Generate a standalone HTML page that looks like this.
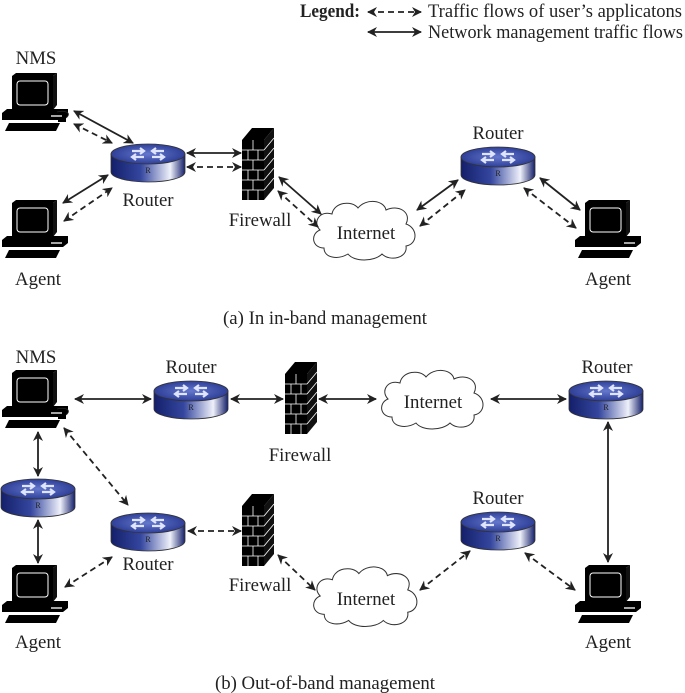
<!DOCTYPE html>
<html><head><meta charset="utf-8"><style>
html,body{margin:0;padding:0;background:#fff}
svg{display:block}
text{font-family:"Liberation Serif",serif;font-size:18.8px;fill:#222}
</style></head><body>
<svg width="685" height="693" viewBox="0 0 685 693" xmlns="http://www.w3.org/2000/svg">
<defs>
<linearGradient id="rg" x1="0" x2="1" y1="0" y2="0">
<stop offset="0" stop-color="#141f6a"/><stop offset="0.4" stop-color="#34469e"/><stop offset="0.8" stop-color="#eef0fa"/><stop offset="1" stop-color="#141f6a"/></linearGradient>
<radialGradient id="tg" cx="0.5" cy="0.5" r="0.6"><stop offset="0" stop-color="#6478cc"/><stop offset="1" stop-color="#25348e"/></radialGradient>
<marker id="ah" viewBox="0 0 10 10" refX="9" refY="5" markerWidth="10" markerHeight="10" orient="auto-start-reverse" markerUnits="userSpaceOnUse"><path d="M0,0 L10,5 L0,10 L3,5 Z" fill="#222"/></marker>
<symbol id="router" viewBox="0 0 76 40">
<path d="M1,11 L1,29 A37,10 0 0 0 75,29 L75,11 Z" fill="url(#rg)" stroke="#333" stroke-width="0.8"/>
<ellipse cx="38" cy="11" rx="37" ry="10" fill="url(#tg)" stroke="#333" stroke-width="0.8"/>
<g stroke="#dfe4ff" stroke-width="2.2" fill="none">
<path d="M22,8 L34,8 M30,5 L34,8 L30,11"/><path d="M54,8 L42,8 M46,5 L42,8 L46,11"/>
<path d="M34,14 L22,14 M26,11 L22,14 L26,17"/><path d="M42,14 L54,14 M50,11 L54,14 L50,17"/></g>
<text x="38" y="30" text-anchor="middle" style="font-size:8px;fill:#222">R</text>
</symbol>
<symbol id="pc" viewBox="0 0 70 60">
<polygon points="12,3 16,0 57,0 53,3" fill="#000"/>
<polygon points="53,3 57,0 57,32 53,37" fill="#111"/>
<rect x="12" y="3" width="41" height="34" fill="#000"/>
<rect x="17" y="8" width="31" height="24" rx="3" fill="#000" stroke="#fff" stroke-width="1"/>
<polygon points="2,40 7,36 68,36 68,43 63,47 2,47" fill="#000"/>
<line x1="51" y1="43" x2="62" y2="43" stroke="#fff" stroke-width="1.3"/>
<polygon points="5,58 9,50 60,50 56,58" fill="#000"/>
</symbol>
<symbol id="fw" viewBox="0 0 32 72">
<polygon points="0,12 10,0 32,0 22,12" fill="#000"/>
<polygon points="22,12 32,0 32,60 22,72" fill="#111"/>
<rect x="0" y="12" width="22" height="60" fill="#000"/>
<g stroke="#fff" stroke-width="0.8" fill="none">
<path d="M0,22 H22 M0,32 H22 M0,42 H22 M0,52 H22 M0,62 H22"/>
<path d="M11,12 V22 M6,22 V32 M16,22 V32 M11,32 V42 M6,42 V52 M16,42 V52 M11,52 V62 M6,62 V72 M16,62 V72"/>
<path d="M22,22 L32,10 M22,32 L32,20 M22,42 L32,30 M22,52 L32,40 M22,62 L32,50"/>
</g>
</symbol>
<symbol id="cloud" viewBox="0 0 110 64">
<path d="M14,50 C2,50 0,36 10,32 C2,24 10,12 22,16 C24,4 42,2 48,10 C56,0 74,2 76,12 C88,6 102,14 96,26 C108,30 108,46 96,48 C98,60 80,64 72,56 C64,64 44,64 38,56 C28,62 14,60 14,50 Z" fill="#fff" stroke="#333" stroke-width="1"/>
</symbol>
</defs>

<text x="300" y="17" style="font-weight:bold" textLength="60" lengthAdjust="spacingAndGlyphs">Legend:</text>
<line x1="368" y1="12" x2="421" y2="12" stroke="#222" stroke-width="1.8" stroke-dasharray="6,4" marker-start="url(#ah)" marker-end="url(#ah)"/>
<text x="428" y="17" textLength="254" lengthAdjust="spacingAndGlyphs">Traffic flows of user’s applicatons</text>
<line x1="368" y1="32" x2="421" y2="32" stroke="#222" stroke-width="1.8" marker-start="url(#ah)" marker-end="url(#ah)"/>
<text x="428" y="38" textLength="255" lengthAdjust="spacingAndGlyphs">Network management traffic flows</text>

<text x="36" y="64" text-anchor="middle">NMS</text>
<use href="#pc" x="0" y="73" width="70" height="60"/>
<path d="M57,112 C66,110 72,113 66,118" stroke="#222" fill="none" stroke-width="0.8"/>
<rect x="58" y="117" width="8" height="5" fill="#000"/>
<use href="#pc" x="0" y="200" width="70" height="60"/>
<text x="38" y="285" text-anchor="middle">Agent</text>
<use href="#router" x="110" y="143" width="76" height="40"/>
<text x="148" y="206" text-anchor="middle">Router</text>
<use href="#fw" x="242" y="128" width="32" height="72"/>
<text x="260" y="226" text-anchor="middle">Firewall</text>
<use href="#cloud" x="310" y="198" width="110" height="64"/>
<text x="366" y="239" text-anchor="middle">Internet</text>
<use href="#router" x="460" y="146" width="76" height="40"/>
<text x="498" y="139" text-anchor="middle">Router</text>
<use href="#pc" x="573" y="200" width="70" height="60"/>
<text x="608" y="285" text-anchor="middle">Agent</text>

<g stroke="#222" stroke-width="1.8" fill="none" marker-start="url(#ah)" marker-end="url(#ah)">
<line x1="74" y1="111" x2="133" y2="143"/>
<line x1="187" y1="153" x2="241" y2="153"/>
<line x1="63" y1="203" x2="108" y2="175"/>
<line x1="279" y1="177" x2="321" y2="214"/>
<line x1="417" y1="210" x2="458" y2="180"/>
<line x1="540" y1="178" x2="580" y2="210"/>
</g>
<g stroke="#222" stroke-width="1.8" fill="none" stroke-dasharray="6,4" marker-start="url(#ah)" marker-end="url(#ah)">
<line x1="74" y1="124" x2="112" y2="143"/>
<line x1="187" y1="167" x2="241" y2="167"/>
<line x1="64" y1="221" x2="112" y2="188"/>
<line x1="278" y1="191" x2="318" y2="227"/>
<line x1="420" y1="226" x2="465" y2="190"/>
<line x1="524" y1="188" x2="576" y2="228"/>
</g>
<text x="325" y="324" text-anchor="middle">(a) In in-band management</text>

<text x="36" y="363" text-anchor="middle">NMS</text>
<use href="#pc" x="0" y="370" width="70" height="60"/>
<path d="M57,409 C66,407 72,410 66,415" stroke="#222" fill="none" stroke-width="0.8"/>
<rect x="58" y="414" width="8" height="5" fill="#000"/>
<use href="#router" x="153" y="380" width="76" height="40"/>
<text x="191" y="373" text-anchor="middle">Router</text>
<use href="#fw" x="285" y="362" width="32" height="72"/>
<text x="300" y="461" text-anchor="middle">Firewall</text>
<use href="#cloud" x="377" y="367" width="112" height="64"/>
<text x="433" y="408" text-anchor="middle">Internet</text>
<use href="#router" x="568" y="380" width="76" height="40"/>
<text x="607" y="373" text-anchor="middle">Router</text>

<use href="#router" x="0" y="478" width="76" height="40"/>
<use href="#pc" x="0" y="565" width="70" height="60"/>
<text x="38" y="648" text-anchor="middle">Agent</text>
<use href="#router" x="110" y="512" width="76" height="40"/>
<text x="148" y="570" text-anchor="middle">Router</text>
<use href="#fw" x="242" y="494" width="32" height="72"/>
<text x="260" y="591" text-anchor="middle">Firewall</text>
<use href="#cloud" x="310" y="563" width="112" height="66"/>
<text x="366" y="605" text-anchor="middle">Internet</text>
<use href="#router" x="460" y="511" width="76" height="40"/>
<text x="498" y="504" text-anchor="middle">Router</text>
<use href="#pc" x="573" y="565" width="70" height="60"/>
<text x="608" y="648" text-anchor="middle">Agent</text>

<g stroke="#222" stroke-width="1.8" fill="none" marker-start="url(#ah)" marker-end="url(#ah)">
<line x1="75" y1="399" x2="151" y2="399"/>
<line x1="231" y1="399" x2="283" y2="399"/>
<line x1="319" y1="399" x2="376" y2="399"/>
<line x1="491" y1="399" x2="566" y2="399"/>
<line x1="608" y1="422" x2="608" y2="562"/>
<line x1="38" y1="432" x2="38" y2="476"/>
<line x1="38" y1="520" x2="38" y2="563"/>
</g>
<g stroke="#222" stroke-width="1.8" fill="none" stroke-dasharray="6,4" marker-start="url(#ah)" marker-end="url(#ah)">
<line x1="64" y1="428" x2="128" y2="505"/>
<line x1="65" y1="587" x2="112" y2="557"/>
<line x1="188" y1="531" x2="241" y2="531"/>
<line x1="278" y1="555" x2="315" y2="590"/>
<line x1="420" y1="590" x2="470" y2="551"/>
<line x1="525" y1="553" x2="575" y2="590"/>
</g>
<text x="325" y="689" text-anchor="middle">(b) Out-of-band management</text>
</svg>
</body></html>
